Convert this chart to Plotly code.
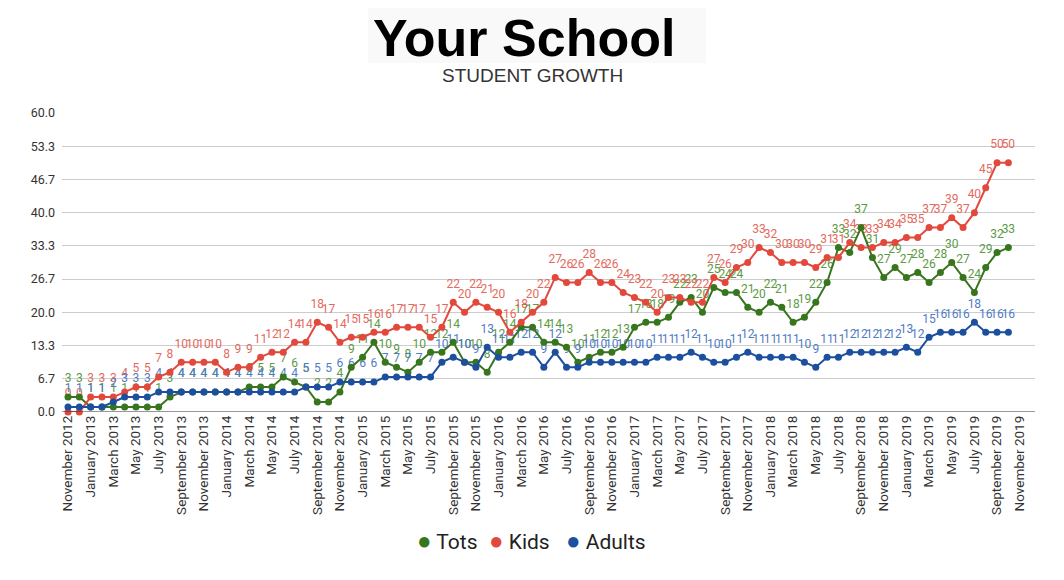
import plotly.graph_objects as go

months = [
    "November 2012", "December 2012", "January 2013", "February 2013", "March 2013", "April 2013",
    "May 2013", "June 2013", "July 2013", "August 2013", "September 2013", "October 2013",
    "November 2013", "December 2013", "January 2014", "February 2014", "March 2014", "April 2014",
    "May 2014", "June 2014", "July 2014", "August 2014", "September 2014", "October 2014",
    "November 2014", "December 2014", "January 2015", "February 2015", "March 2015", "April 2015",
    "May 2015", "June 2015", "July 2015", "August 2015", "September 2015", "October 2015",
    "November 2015", "December 2015", "January 2016", "February 2016", "March 2016", "April 2016",
    "May 2016", "June 2016", "July 2016", "August 2016", "September 2016", "October 2016",
    "November 2016", "December 2016", "January 2017", "February 2017", "March 2017", "April 2017",
    "May 2017", "June 2017", "July 2017", "August 2017", "September 2017", "October 2017",
    "November 2017", "December 2017", "January 2018", "February 2018", "March 2018", "April 2018",
    "May 2018", "June 2018", "July 2018", "August 2018", "September 2018", "October 2018",
    "November 2018", "December 2018", "January 2019", "February 2019", "March 2019", "April 2019",
    "May 2019", "June 2019", "July 2019", "August 2019", "September 2019", "October 2019",
    "November 2019",
]

tots = [3, 3, 1, 1, 1, 1, 1, 1, 1, 3, 4, 4, 4, 4, 4, 4, 5, 5, 5, 7, 6, 5, 2, 2, 4, 9, 11, 14,
        10, 9, 8, 10, 12, 12, 14, 10, 10, 8, 12, 14, 17, 17, 14, 14, 13, 10, 11, 12, 12, 13,
        17, 18, 18, 19, 22, 23, 20, 25, 24, 24, 21, 20, 22, 21, 18, 19, 22, 26, 33, 32, 37,
        31, 27, 29, 27, 28, 26, 28, 30, 27, 24, 29, 32, 33]
kids = [0, 0, 3, 3, 3, 4, 5, 5, 7, 8, 10, 10, 10, 10, 8, 9, 9, 11, 12, 12, 14, 14, 18, 17,
        14, 15, 15, 16, 16, 17, 17, 17, 15, 17, 22, 20, 22, 21, 20, 16, 18, 20, 22, 27, 26,
        26, 28, 26, 26, 24, 23, 22, 20, 23, 23, 22, 22, 27, 26, 29, 30, 33, 32, 30, 30, 30,
        29, 31, 31, 34, 33, 33, 34, 34, 35, 35, 37, 37, 39, 37, 40, 45, 50, 50]
adults = [1, 1, 1, 1, 2, 3, 3, 3, 4, 4, 4, 4, 4, 4, 4, 4, 4, 4, 4, 4, 4, 5, 5, 5, 6, 6, 6, 6,
          7, 7, 7, 7, 7, 10, 11, 10, 9, 13, 11, 11, 12, 12, 9, 12, 9, 9, 10, 10, 10, 10, 10,
          10, 11, 11, 11, 12, 11, 10, 10, 11, 12, 11, 11, 11, 11, 10, 9, 11, 11, 12, 12, 12,
          12, 12, 13, 12, 15, 16, 16, 16, 18, 16, 16, 16]

tick_months = months[::2]
y_tickvals = [0, 6.667, 13.333, 20, 26.667, 33.333, 40, 46.667, 53.333, 60]
y_ticktext = ["0.0", "6.7", "13.3", "20.0", "26.7", "33.3", "40.0", "46.7", "53.3", "60.0"]

series = [
    ("Tots", tots, "#38761d", "#5e9a45"),
    ("Kids", kids, "#e2483b", "#e46a5e"),
    ("Adults", adults, "#1c4f9e", "#4f7cc4"),
]

fig = go.Figure()
# value labels (transparent, larger markers push the text further above the points)
for name, vals, col, lcol in series:
    fig.add_trace(go.Scatter(
        x=months[:len(vals)], y=vals, mode="markers+text", name=name + " labels",
        text=[str(v) for v in vals], textposition="top center",
        textfont=dict(family="Roboto", size=12, color=lcol),
        marker=dict(color="rgba(0,0,0,0)", size=17),
        cliponaxis=False, showlegend=False, hoverinfo="skip",
    ))
for name, vals, col, lcol in series:
    fig.add_trace(go.Scatter(
        x=months[:len(vals)], y=vals, mode="lines+markers", name=name,
        line=dict(color=col, width=2), marker=dict(color=col, size=7),
        cliponaxis=False, showlegend=False,
    ))

plot_l, plot_w, plot_b, plot_h = 62, 973, 412, 299


def px_x(x):
    return (x - plot_l) / plot_w


def px_y(y):
    return (plot_b - y) / plot_h


legend_items = [("Tots", "#38761d", 415), ("Kids", "#e2483b", 487), ("Adults", "#1c4f9e", 564)]
annotations = [
    dict(text="<b>Your School</b>", xref="paper", yref="paper",
         x=px_x(524), y=px_y(38), xanchor="center", yanchor="middle",
         showarrow=False, font=dict(family="Liberation Sans", size=52, color="black")),
    dict(text="STUDENT GROWTH", xref="paper", yref="paper",
         x=px_x(532), y=px_y(75), xanchor="center", yanchor="middle",
         showarrow=False, font=dict(family="Liberation Sans", size=19, color="#333")),
]
for label, col, xl in legend_items:
    annotations.append(dict(
        text=f"<span style='font-size:24px;color:{col}'>●</span> {label}",
        xref="paper", yref="paper", x=px_x(xl), y=px_y(541), xanchor="left", yanchor="middle",
        showarrow=False, font=dict(family="Roboto", size=21, color="#222"),
    ))

fig.update_layout(
    width=1064, height=580,
    margin=dict(l=plot_l, r=1064 - plot_l - plot_w, t=plot_b - plot_h, b=580 - plot_b),
    paper_bgcolor="white", plot_bgcolor="white",
    font=dict(family="Roboto", color="#444"),
    showlegend=False,
    xaxis=dict(
        type="category", categoryorder="array", categoryarray=months,
        range=[-0.53, 85.35], tickmode="array", tickvals=tick_months, ticktext=tick_months,
        tickangle=-90, tickfont=dict(size=13.5, color="#333"), showgrid=False,
        showline=False, ticks="", zeroline=False,
    ),
    yaxis=dict(
        range=[0, 60], tickmode="array", tickvals=y_tickvals, ticktext=y_ticktext,
        tickfont=dict(size=12.5, color="#333"), gridcolor="#cccccc", gridwidth=1,
        zeroline=False, showline=False, ticks="", ticklabelstandoff=6,
    ),
    shapes=[
        dict(type="rect", xref="paper", yref="paper",
             x0=px_x(368), x1=px_x(706), y0=px_y(63), y1=px_y(8),
             fillcolor="#f9f9f9", line=dict(width=0), layer="below"),
        dict(type="line", xref="paper", yref="y", x0=0, x1=1, y0=0, y1=0,
             line=dict(color="#333", width=1.2)),
    ],
    annotations=annotations,
)

fig.write_html("out.html")
